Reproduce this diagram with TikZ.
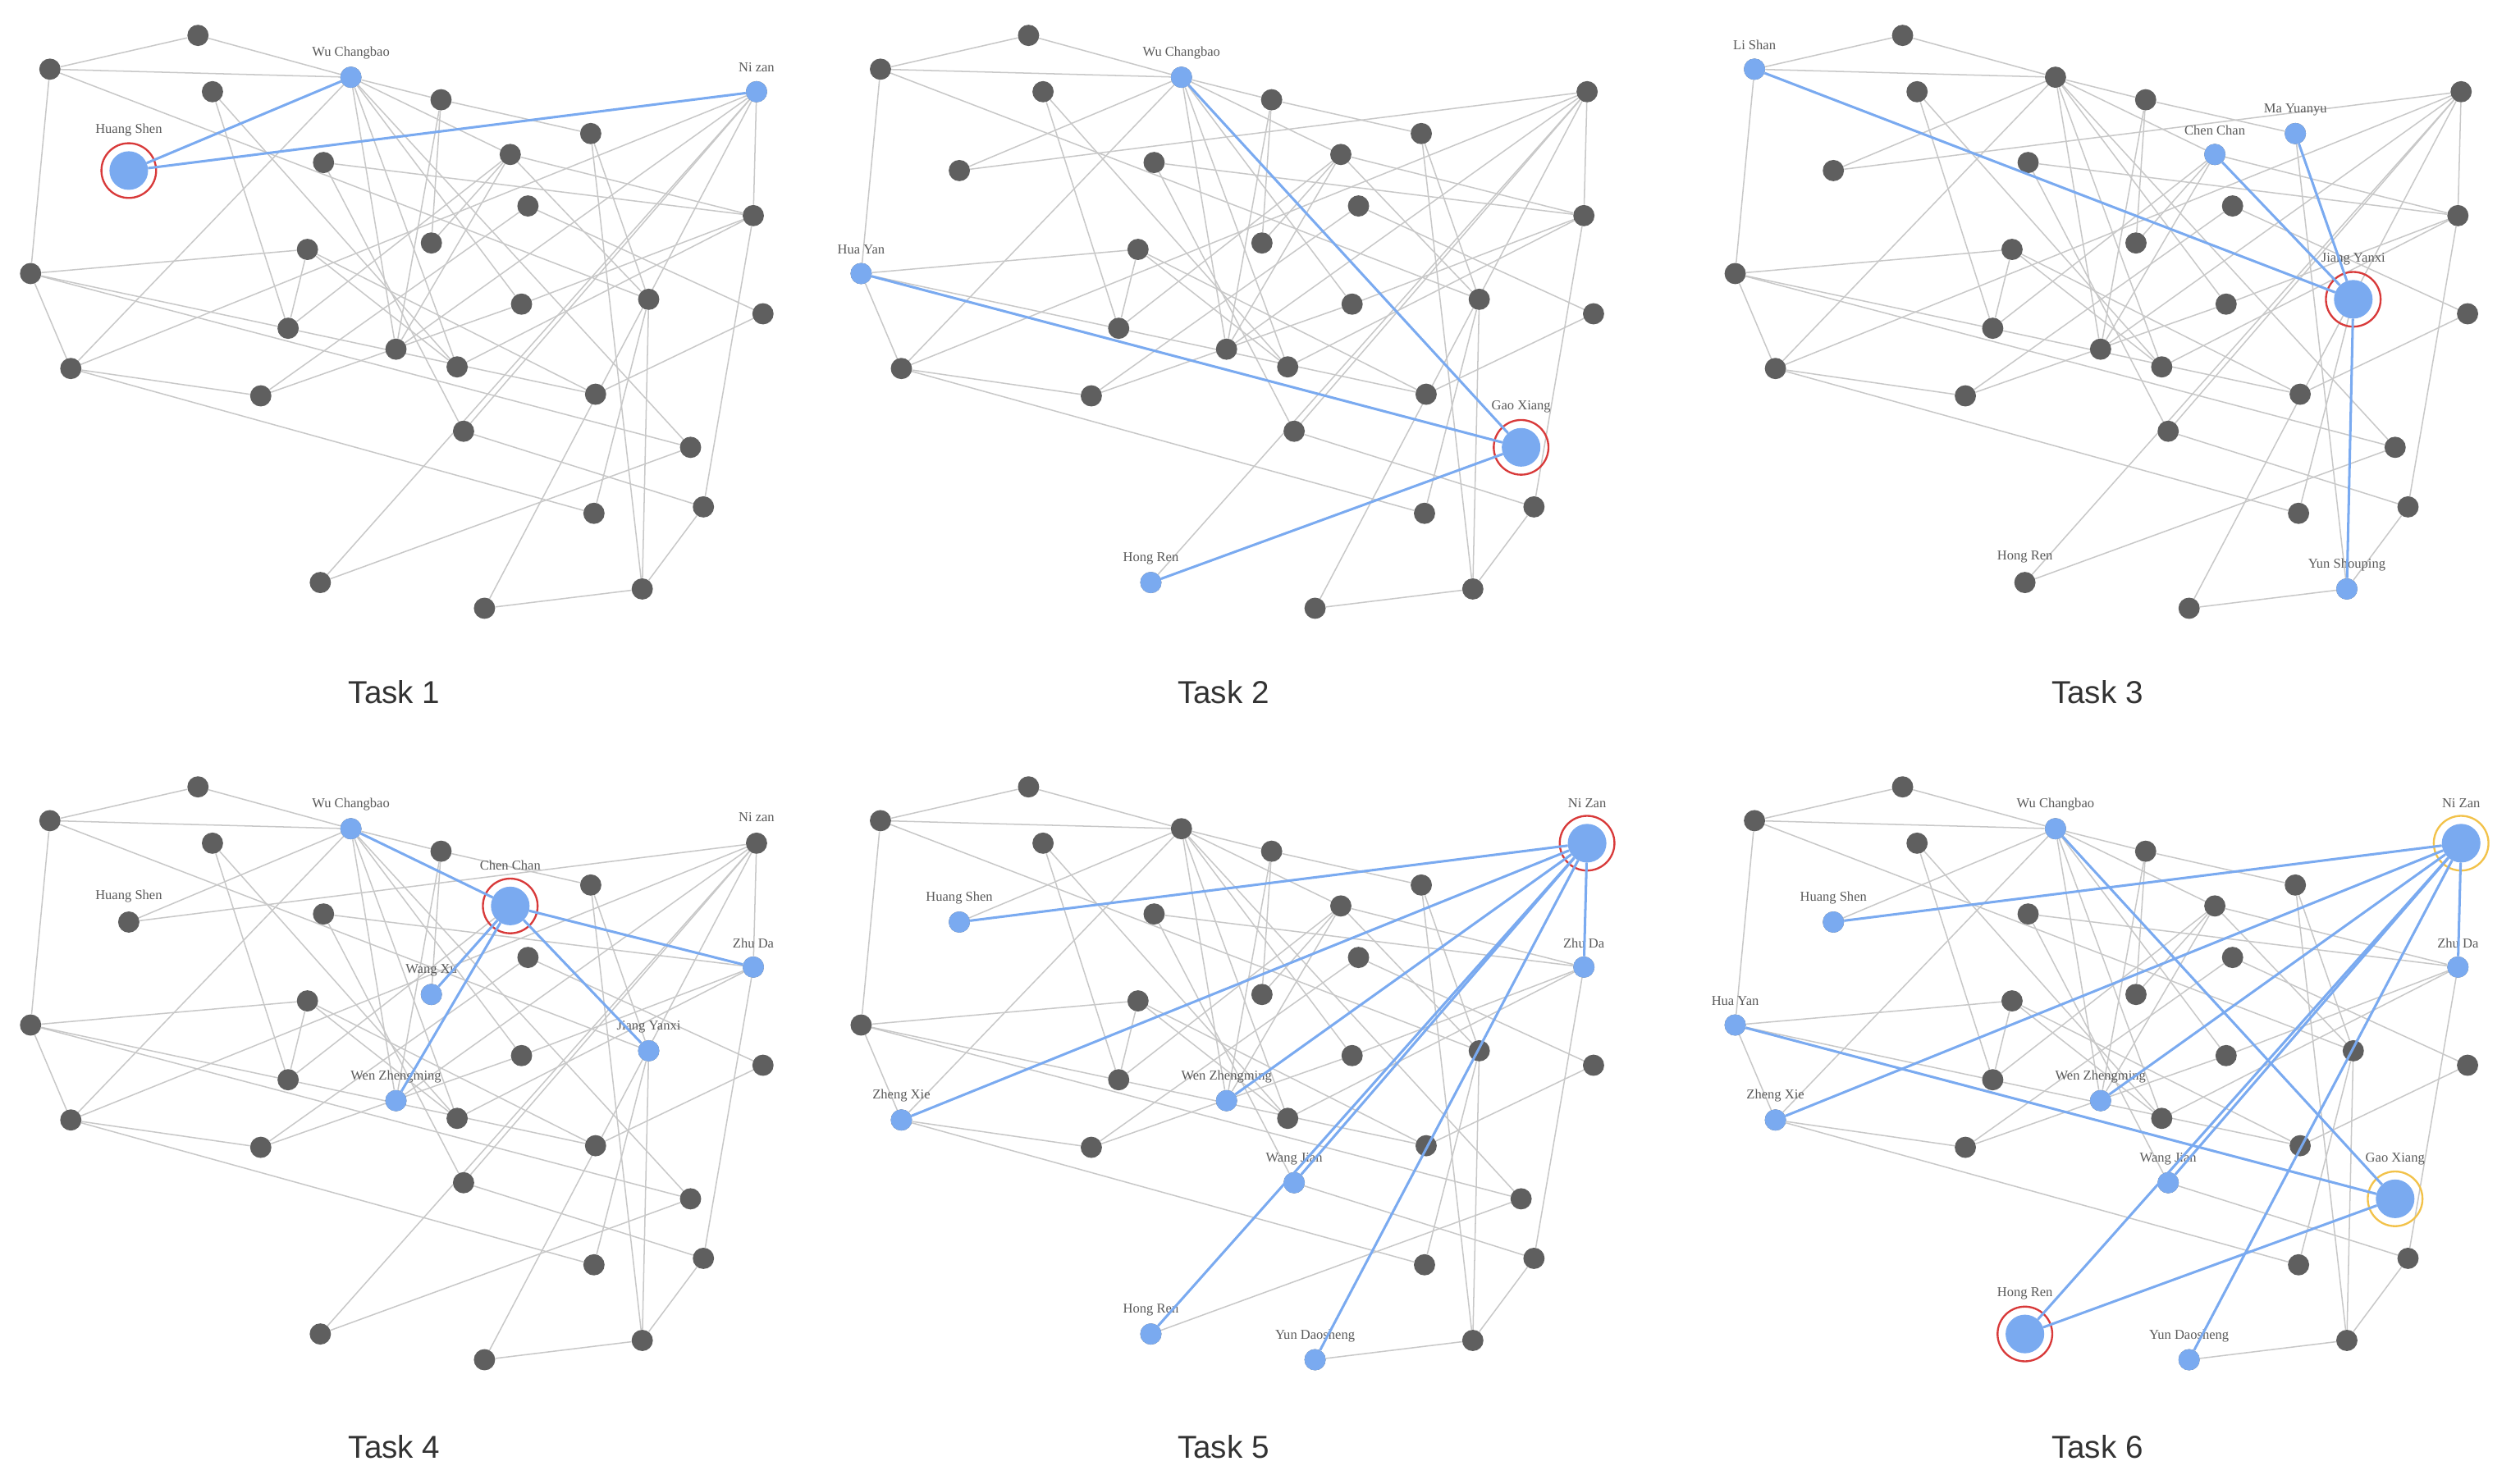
\documentclass[tikz,border=0pt]{standalone}
\usepackage{fontspec}
\setmainfont{Liberation Serif}
\newfontfamily\tasksf{Liberation Sans}
\usetikzlibrary{backgrounds}
\definecolor{gn}{HTML}{5F5F5F}
\definecolor{ge}{HTML}{C8C8C8}
\definecolor{bl}{HTML}{7AAAF0}
\definecolor{rd}{HTML}{D83A3A}
\definecolor{yl}{HTML}{F2C24A}
\tikzset{
 gnode/.style={circle,fill=gn,inner sep=0,minimum size=0.66cm},
 bnode/.style={circle,fill=bl,inner sep=0,minimum size=0.66cm},
 snode/.style={circle,fill=bl,inner sep=0,minimum size=0.66cm},
 bignode/.style={circle,fill=bl,inner sep=0,minimum size=1.2cm},
 ring/.style={circle,inner sep=0,minimum size=1.7cm,line width=1.7pt},
 gedge/.style={ge,line width=1.1pt},
 bedge/.style={bl,line width=2.2pt},
 lab/.style={font=\fontsize{12}{12}\selectfont,text=black!65,inner sep=0},
 tasklab/.style={font=\tasksf\fontsize{28}{28}\selectfont,text=black!80}
}
\newcommand\drawgraph[1]{%
 \foreach \i/\px/\py in {1/31/43,2/123/22,3/218/48,4/470/57,5/132/57,6/274/62,7/367/83,8/80/106,9/201/101,10/317/96,11/328/128,12/468/134,13/19/170,14/191/155,15/268/151,16/324/189,17/403/186,18/474/195,19/179/204,20/246/217,21/284/228,22/44/229,23/162/246,24/370/245,25/288/268,26/429/278,27/369/319,28/437/315,29/199/362,30/301/378,31/399/366}
  {\node[gnode] (#1n\i) at (\px,\py) {};}
 \begin{scope}[on background layer]
 \foreach \a/\b in {1/2,2/3,1/3,1/13,1/17,3/8,4/8,3/6,6/7,3/10,3/20,3/21,3/16,3/26,3/22,13/22,13/14,13/24,14/19,14/24,14/21,5/19,5/21,9/25,9/12,19/10,22/23,22/4,22/27,23/16,6/20,6/15,10/12,10/15,10/17,10/20,11/18,11/23,12/4,12/21,12/16,12/28,7/17,7/31,17/31,17/27,25/4,25/28,20/4,29/4,29/26,30/4,30/31,28/31,13/26,18/24}
  {\draw[gedge] (#1n\a) -- (#1n\b);}
 \end{scope}}
\newcommand\hb[3]{\node[bnode] (#1b#2) at (#1n#2) {};\node[lab] (#1l#2) at ([yshift=0.75cm]#1n#2.center) {#3};}
\newcommand\hs[3]{\node[snode] (#1b#2) at (#1n#2) {};\node[lab] (#1l#2) at ([yshift=0.75cm]#1n#2.center) {#3};}
\newcommand\hg[3]{\node[lab] (#1l#2) at ([yshift=0.8cm]#1n#2.center) {#3};}
\newcommand\hbig[4]{\node[bignode] (#1b#2) at (#1n#2) {};\node[ring,draw=#4] (#1r#2) at (#1n#2) {};\node[lab] (#1l#2) at ([yshift=1.25cm]#1n#2.center) {#3};}
\newcommand\be[3]{\draw[bedge] (#1b#2) -- (#1b#3);}
\begin{document}
\begin{tikzpicture}[x=0.05cm,y=-0.05cm]
\useasboundingbox (0,0) rectangle (1560,922);
% Panel 1
\begin{scope}[shift={(0,0)}]
\drawgraph{a}
\hb{a}{3}{Wu Changbao}\hb{a}{4}{Ni zan}\hbig{a}{8}{Huang Shen}{rd}
\be{a}{8}{3}\be{a}{8}{4}
\node[tasklab] (t1) at (245,430) {Task 1};
\end{scope}
% Panel 2
\begin{scope}[shift={(516,0)}]
\drawgraph{b}
\hb{b}{3}{Wu Changbao}\hb{b}{13}{Hua Yan}\hb{b}{29}{Hong Ren}\hbig{b}{26}{Gao Xiang}{rd}
\be{b}{3}{26}\be{b}{13}{26}\be{b}{29}{26}
\node[tasklab] (t2) at (244,430) {Task 2};
\end{scope}
% Panel 3
\begin{scope}[shift={(1059,0)}]
\drawgraph{c}
\hb{c}{1}{Li Shan}\hb{c}{10}{Chen Chan}\hb{c}{7}{Ma Yuanyu}\hb{c}{31}{Yun Shouping}\hg{c}{29}{Hong Ren}
\hbig{c}{17}{Jiang Yanxi}{rd}
\be{c}{1}{17}\be{c}{10}{17}\be{c}{7}{17}\be{c}{31}{17}
\node[tasklab] (t3) at (244,430) {Task 3};
\end{scope}
% Panel 4
\begin{scope}[shift={(0,467)}]
\drawgraph{d}
\hb{d}{3}{Wu Changbao}\hb{d}{15}{Wang Xu}\hb{d}{20}{Wen Zhengming}\hb{d}{17}{Jiang Yanxi}\hb{d}{12}{Zhu Da}
\hg{d}{8}{Huang Shen}\hg{d}{4}{Ni zan}
\hbig{d}{10}{Chen Chan}{rd}
\be{d}{3}{10}\be{d}{12}{10}\be{d}{15}{10}\be{d}{17}{10}\be{d}{20}{10}
\node[tasklab] (t4) at (245,432) {Task 4};
\end{scope}
% Panel 5
\begin{scope}[shift={(516,467)}]
\drawgraph{e}
\hb{e}{8}{Huang Shen}\hb{e}{22}{Zheng Xie}\hb{e}{20}{Wen Zhengming}\hb{e}{12}{Zhu Da}\hb{e}{25}{Wang Jian}\hb{e}{29}{Hong Ren}\hs{e}{30}{Yun Daosheng}
\hbig{e}{4}{Ni Zan}{rd}
\foreach \k in {8,22,20,12,25,29,30}{\be{e}{4}{\k}}
\node[tasklab] (t5) at (244,432) {Task 5};
\end{scope}
% Panel 6
\begin{scope}[shift={(1059,467)}]
\drawgraph{f}
\hb{f}{3}{Wu Changbao}\hb{f}{8}{Huang Shen}\hb{f}{13}{Hua Yan}\hb{f}{22}{Zheng Xie}\hb{f}{20}{Wen Zhengming}\hb{f}{12}{Zhu Da}\hb{f}{25}{Wang Jian}\hs{f}{30}{Yun Daosheng}
\hbig{f}{4}{Ni Zan}{yl}\hbig{f}{26}{Gao Xiang}{yl}\hbig{f}{29}{Hong Ren}{rd}
\foreach \k in {8,22,20,12,25,29,30}{\be{f}{4}{\k}}
\be{f}{3}{26}\be{f}{13}{26}\be{f}{29}{26}
\node[tasklab] (t6) at (244,432) {Task 6};
\end{scope}
\end{tikzpicture}
\end{document}
